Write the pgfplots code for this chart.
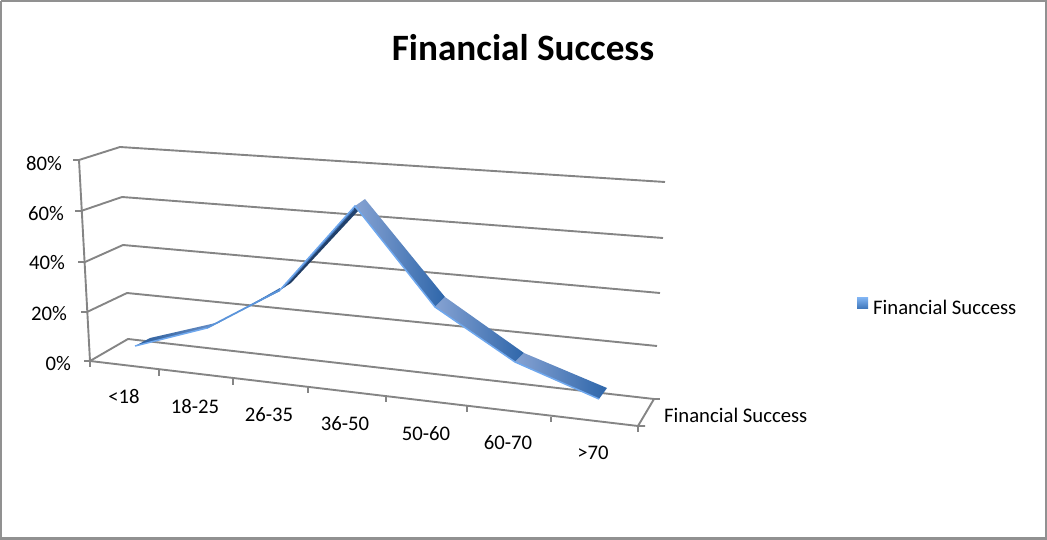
\documentclass[border=0pt]{standalone}
\usepackage{fontspec}
\setmainfont{Carlito}
\usepackage{pgfplots}
\pgfplotsset{compat=1.18}
\definecolor{gridc}{HTML}{858585}
\definecolor{edgec}{HTML}{6FA8EE}
\definecolor{lightb}{HTML}{86A2D2}
\definecolor{darkb}{HTML}{2E66AA}
\definecolor{navy}{HTML}{1F3A60}
\definecolor{midb}{HTML}{3F6FAF}
\tikzset{lab/.style={font=\fontsize{20.7}{24}\selectfont, text=black, inner sep=0pt}}
\pgfplotsset{
  gl/.style={color=gridc, line width=1.9pt, mark=none, forget plot},
  rib/.style={draw=none, mark=none, forget plot, left color=lightb, right color=darkb},
  ed/.style={color=edgec, line width=1.5pt, mark=none, forget plot}
}
\begin{document}
\begin{tikzpicture}
\begin{axis}[
  scale only axis, width=1047pt, height=540pt,
  xmin=0, xmax=1047, ymin=0, ymax=540, y dir=reverse,
  axis lines=none]
% outer frame
\addplot[color=gridc!90, line width=2.2pt, mark=none, forget plot] coordinates {(1,1) (1046,1) (1046,538.5) (1,538.5) (1,1)};
% wall and floor gridlines, in picture pixels
\addplot[gl] coordinates {(73,160) (79,160) (120,147) (665,182)};
\addplot[gl] coordinates {(75,211) (81,211) (122,197) (663,238)};
\addplot[gl] coordinates {(78,262) (85,262) (123,245) (660,293)};
\addplot[gl] coordinates {(81,312) (87,312) (127,293) (657,346)};
\addplot[gl] coordinates {(84,361) (90,361) (128,339) (654,399) (638,426)};
\addplot[gl] coordinates {(654,399) (660,399)};
\addplot[gl] coordinates {(79,160) (90,361) (638,426) (645,426)};
% x ticks
\addplot[gl] coordinates {(90,361) (90,367)};
\addplot[gl] coordinates {(159,369) (159,376)};
\addplot[gl] coordinates {(233,378) (233,385)};
\addplot[gl] coordinates {(308,387) (308,393)};
\addplot[gl] coordinates {(386,397) (386,402)};
\addplot[gl] coordinates {(467,406) (467,412)};
\addplot[gl] coordinates {(551,417) (551,422)};
\addplot[gl] coordinates {(638,426) (638,432)};
% ribbon segments
\addplot[rib, left color=darkb!80!navy, right color=lightb!70!darkb] coordinates {(135,346) (150,338) (220,322) (207,328)} -- cycle;
\addplot[draw=none, fill=darkb, mark=none, forget plot] coordinates {(207,328) (220,322) (280,288) (280,291)} -- cycle;
\addplot[rib, left color=navy, right color=navy!80!darkb] coordinates {(280,290) (291,283) (358,211) (354,207)} -- cycle;
\addplot[draw=none, fill=midb, mark=none, forget plot] coordinates {(280,290) (285,287) (354,210) (354,207)} -- cycle;
\addplot[rib] coordinates {(355,206) (365,199) (445,297) (435,307)} -- cycle;
\addplot[rib] coordinates {(435,307) (445,297) (524,353) (515,362)} -- cycle;
\addplot[rib] coordinates {(515,362) (524,353) (607,388) (599,399)} -- cycle;
% light front edge of the ribbon
\addplot[ed] coordinates {(135,346) (207,328)};
\addplot[color=edgec!70!darkb, line width=1.8pt, mark=none, forget plot] coordinates {(207,328) (280,290)};
\addplot[ed] coordinates {(280,290) (355,206) (435,307) (515,362) (599,399)};
% legend key
\addplot[draw=none, mark=none, forget plot, top color=edgec!90!white, bottom color=darkb!80!edgec] coordinates {(857,298) (868,298) (868,309) (857,309)} -- cycle;
% texts
\node[font=\fontsize{37.2}{42}\selectfont\bfseries, text=black] at (axis cs:523,48) {Financial Success};
\node[lab, anchor=east] at (axis cs:62,164) {80\%};
\node[lab, anchor=east] at (axis cs:64,214) {60\%};
\node[lab, anchor=east] at (axis cs:65,263) {40\%};
\node[lab, anchor=east] at (axis cs:67,314) {20\%};
\node[lab, anchor=east] at (axis cs:71,364) {0\%};
\node[lab] at (axis cs:124,397) {<18};
\node[lab] at (axis cs:195,407) {18-25};
\node[lab] at (axis cs:269,415) {26-35};
\node[lab] at (axis cs:345,424) {36-50};
\node[lab] at (axis cs:426,434) {50-60};
\node[lab] at (axis cs:508,443) {60-70};
\node[lab] at (axis cs:593,453) {>70};
\node[lab, anchor=west] at (axis cs:664,415) {Financial Success};
\node[lab, anchor=west] at (axis cs:873,307) {Financial Success};
\end{axis}
\end{tikzpicture}
\end{document}
